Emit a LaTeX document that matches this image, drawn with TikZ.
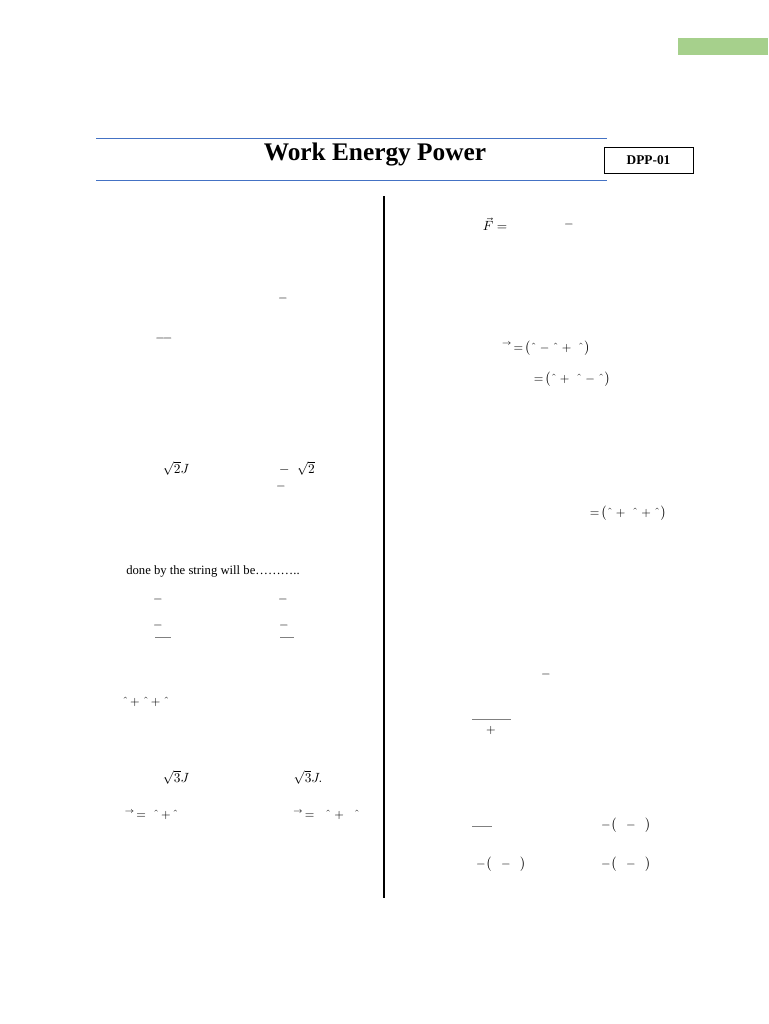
\documentclass[tikz,border=0pt]{standalone}
\usepackage{fontspec}
\setmainfont{Liberation Serif}
\usepackage{amsmath}
\begin{document}
\begin{tikzpicture}[x=0.75pt,y=0.75pt,yscale=-1,xscale=1]
\tikzset{frag/.style={inner sep=0.75pt,font=\fontsize{9}{10}\selectfont},
  bar/.style={line width=0.5pt,gray}}
\useasboundingbox (0,0) rectangle (768,1024);
%Shape: Rectangle [id:tab]
\fill [fill={rgb, 255:red, 166; green, 208; blue, 140 }] (678,38) rectangle (768,55);
%Straight Lines [id:rules]
\draw [color={rgb, 255:red, 68; green, 114; blue, 196 }] (96,138) -- (607,138);
\draw [color={rgb, 255:red, 68; green, 114; blue, 196 }] (96,180) -- (607,180);
%Straight Lines [id:column]
\draw [line width=0.9pt] (384,196) -- (384,898);

% Text Node
\node (title) at (375,155) [inner sep=0.75pt] {\fontsize{19}{22}\selectfont\bfseries Work Energy Power};
% Text Node
\node (dpp) at (648.5,160) [draw,minimum width=66.75pt,minimum height=19.5pt,inner sep=0.75pt] {\fontsize{10}{12}\selectfont\bfseries DPP-01};

% Text Node
\node (fvec) at (495,224) [frag] {\fontsize{10}{12}\selectfont$\vec{F}=$};
\node (m1) at (569,224) [frag] {$-$};
\node (m2) at (283,298) [frag] {$-$};
\node (m3) at (164,338) [frag] {$-\!-$};
\node (r1) at (546,348) [frag] {$^{\rightarrow}\!=\!\big(\;\hat{}\;-\;\hat{}\;+\;\;\hat{}\;\big)$};
\node (r2) at (572,379) [frag] {$=\!\big(\;\hat{}\;+\;\;\hat{}\;-\;\hat{}\;\big)$};
\node (s2a) at (176,468) [frag] {\fontsize{10}{12}\selectfont$\sqrt{2}J$};
\node (s2b) at (297,468) [frag] {\fontsize{10}{12}\selectfont$-\;\;\sqrt{2}$};
\node (m4) at (281,486) [frag] {$-$};
\node (r3) at (628,513) [frag] {$=\!\big(\;\hat{}\;+\;\;\hat{}\;+\;\hat{}\;\big)$};
\node (str) at (125,571) [frag,anchor=west] {\fontsize{9.5}{11}\selectfont done by the string will be\dots\dots\dots..};
\node (m5) at (158,599) [frag] {$-$};
\node (m6) at (283,599) [frag] {$-$};
\node (m7) at (158,625) [frag] {$-$};
\draw [bar] (155,637) -- (171,637);
\node (m8) at (284,625) [frag] {$-$};
\draw [bar] (280,637) -- (294,637);
\node (m9) at (546,674) [frag] {$-$};
\node (r4) at (146,702) [frag] {$\hat{}\,+\;\hat{}\,+\;\hat{}$};
\draw [bar] (472,719) -- (511,719);
\node (p1) at (491,730) [frag] {$+$};
\node (s3a) at (176,777) [frag] {\fontsize{10}{12}\selectfont$\sqrt{3}J$};
\node (s3b) at (308,777) [frag] {\fontsize{10}{12}\selectfont$\sqrt{3}J.$};
\node (r5) at (150,815) [frag] {$^{\rightarrow}\!=\;\;\hat{}\,+\,\hat{}$};
\node (r6) at (325,815) [frag] {$^{\rightarrow}\!=\;\;\;\hat{}\;+\;\;\;\hat{}$};
\draw [bar] (472,826) -- (492,826);
\node (q1) at (626,825) [frag] {$-\big(\;\;-\;\;\big)$};
\node (q2) at (501,864) [frag] {$-\big(\;\;-\;\;\big)$};
\node (q3) at (626,864) [frag] {$-\big(\;\;-\;\;\big)$};
\end{tikzpicture}
\end{document}
